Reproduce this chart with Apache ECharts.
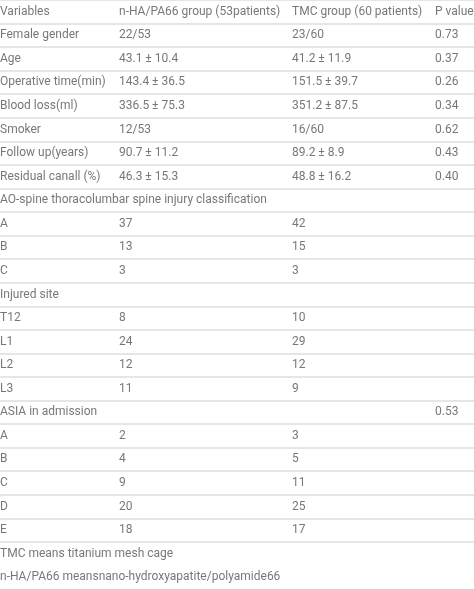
<!DOCTYPE html>
<html><head><meta charset="utf-8">
<script src="https://cdn.jsdelivr.net/npm/echarts@6/dist/echarts.min.js"></script>
<style>html,body{margin:0;padding:0;background:#fff}#c{width:474px;height:589px}</style>
</head><body><div id="c"></div>
<script>
const header = ["Variables","n-HA/PA66 group (53patients)","TMC group (60 patients)","P value"];
const variables = ["Female gender","Age","Operative time(min)","Blood loss(ml)","Smoker","Follow up(years)","Residual canall (%)","AO-spine thoracolumbar spine injury classification","A","B","C","Injured site","T12","L1","L2","L3","ASIA in admission","A","B","C","D","E","TMC means titanium mesh cage","n-HA/PA66 meansnano-hydroxyapatite/polyamide66"];
const groupHA = ["22/53","43.1 ± 10.4","143.4 ± 36.5","336.5 ± 75.3","12/53","90.7 ± 11.2","46.3 ± 15.3","","37","13","3","","8","24","12","11","","2","4","9","20","18","",""];
const groupTMC = ["23/60","41.2 ± 11.9","151.5 ± 39.7","351.2 ± 87.5","16/60","89.2 ± 8.9","48.8 ± 16.2","","42","15","3","","10","29","12","9","","3","5","11","25","17","",""];
const pValues = ["0.73","0.37","0.26","0.34","0.62","0.43","0.40","","","","","","","","","","0.53","","","","","","",""];

const rows = [header].concat(variables.map((v,i)=>[v,groupHA[i],groupTMC[i],pValues[i]]));
const rowIdx = rows.map((r,i)=>String(i));
const colX = [0,119,292,435];
const data = [];
rows.forEach((r,i)=>r.forEach((t,j)=>{ if(t!=="") data.push({value:[colX[j],String(i)],txt:t}); }));
const lineColors = [];
for (let k=0;k<=rows.length;k++) lineColors.push(k>=rows.length-1 ? 'rgba(0,0,0,0)' : '#e6e6e6');

const chart = echarts.init(document.getElementById('c'));
chart.setOption({
  animation:false,
  grid:{left:0,right:0,top:-5,height:600},
  xAxis:{type:'value',min:0,max:474,show:false},
  yAxis:{type:'category',data:rowIdx,inverse:true,boundaryGap:true,
    axisLine:{show:false},axisTick:{show:false},axisLabel:{show:false},
    splitLine:{show:true,lineStyle:{color:lineColors,width:2}}},
  series:[{type:'scatter',symbolSize:0,data:data,
    label:{show:true,position:'right',distance:0,color:'#555',fontFamily:'Roboto',fontSize:12,
      formatter:p=>p.data.txt}}]
});
</script></body></html>
